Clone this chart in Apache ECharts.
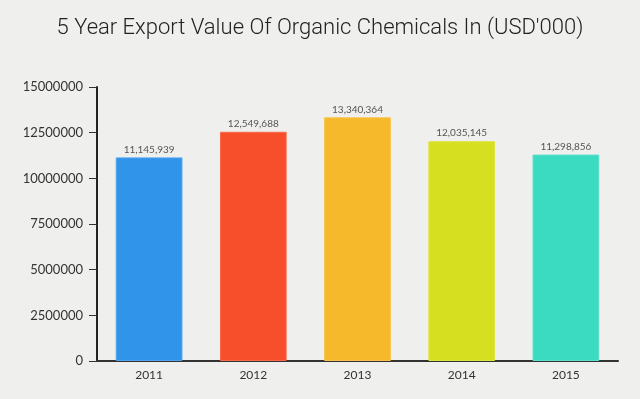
<!DOCTYPE html>
<html>
<head>
<meta charset="utf-8">
<script src="https://cdn.jsdelivr.net/npm/echarts@6/dist/echarts.min.js"></script>
<style>
html, body { margin: 0; padding: 0; background: #efefed; }
#chart { width: 640px; height: 399px; }
</style>
</head>
<body>
<div id="chart"></div>
<script>
// export values, USD'000
const years = ["2011", "2012", "2013", "2014", "2015"];
const exportValues = [11145939, 12549688, 13340364, 12035145, 11298856];
const barColors = ["#3094ea", "#f74f2b", "#f6b92b", "#d6e020", "#3bdbc2"];

const chart = echarts.init(document.getElementById("chart"));

const option = {
  backgroundColor: "#efefed",
  title: {
    text: "5 Year Export Value Of Organic Chemicals In (USD'000)",
    left: "center",
    top: 12,
    textStyle: {
      fontFamily: "Roboto",
      fontWeight: 300,
      fontSize: 22,
      color: "#222"
    }
  },
  grid: {
    left: 97,
    right: 22,
    top: 87,
    bottom: 38
  },
  xAxis: {
    type: "category",
    data: years,
    axisLine: { lineStyle: { color: "#333", width: 2 } },
    axisTick: { alignWithLabel: true, length: 6, lineStyle: { color: "#999" } },
    axisLabel: { color: "#333", fontFamily: "Lato", fontSize: 12, margin: 8 }
  },
  yAxis: {
    type: "value",
    min: 0,
    max: 15000000,
    interval: 2500000,
    splitLine: { show: false },
    axisLine: { show: true, lineStyle: { color: "#222", width: 2 } },
    axisTick: { show: true, length: 8, lineStyle: { color: "#333" } },
    axisLabel: {
      color: "#333",
      fontFamily: "Lato",
      fontSize: 13,
      margin: 14,
      formatter: (v) => String(v)
    }
  },
  series: [
    {
      type: "bar",
      barWidth: "64%",
      data: exportValues.map((v, i) => ({
        value: v,
        itemStyle: { color: barColors[i], borderColor: echarts.color.lift(barColors[i], 0.15), borderWidth: 1 }
      })),
      label: {
        show: true,
        position: "top",
        distance: 3,
        color: "#555",
        fontFamily: "Lato",
        fontSize: 10,
        formatter: (p) => p.value.toLocaleString("en-US")
      }
    }
  ]
};

chart.setOption(option);
</script>
</body>
</html>
